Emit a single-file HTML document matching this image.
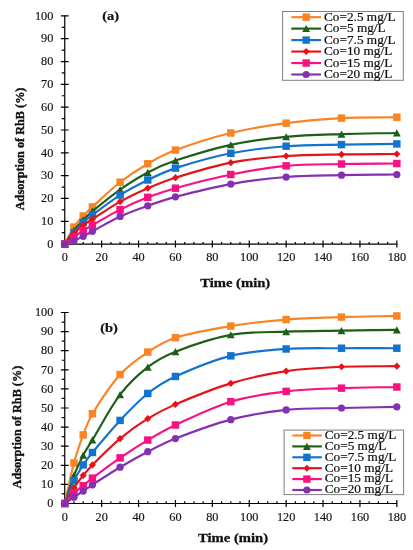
<!DOCTYPE html>
<html><head><meta charset="utf-8"><title>Adsorption of RhB</title>
<style>
html,body{margin:0;padding:0;background:#fff;}
body{width:413px;height:550px;overflow:hidden;font-family:"Liberation Serif",serif;}
svg{display:block;}
text{font-family:"Liberation Serif",serif;fill:#111;}
.tk{font-size:11.6px;stroke:#111;stroke-width:0.15px;}
.tt{font-size:13.2px;font-weight:bold;stroke:#111;stroke-width:0.3px;}
.ty{font-size:12.25px;font-weight:bold;stroke:#111;stroke-width:0.35px;}
.lb{font-size:12.6px;font-weight:bold;stroke:#111;stroke-width:0.2px;}
.lg{font-size:11.85px;stroke:#111;stroke-width:0.2px;}
</style></head><body>
<svg width="413" height="550" viewBox="0 0 413 550">
<rect width="413" height="550" fill="#fff"/>
<g stroke="#000" stroke-width="1.2" fill="none">
<path d="M64.75 15.40V244.60"/>
<path d="M64.25 244.10H397.35"/>
<path d="M60.85 244.10H68.65M61.75 232.69H64.75M60.85 221.28H68.65M61.75 209.87H64.75M60.85 198.46H68.65M61.75 187.05H64.75M60.85 175.64H68.65M61.75 164.23H64.75M60.85 152.82H68.65M61.75 141.41H64.75M60.85 130.00H68.65M61.75 118.59H64.75M60.85 107.18H68.65M61.75 95.77H64.75M60.85 84.36H68.65M61.75 72.95H64.75M60.85 61.54H68.65M61.75 50.13H64.75M60.85 38.72H68.65M61.75 27.31H64.75M60.85 15.90H68.65M64.75 240.50V247.50M73.97 241.90V244.10M83.20 241.90V244.10M92.42 241.90V244.10M101.65 240.50V247.50M110.88 241.90V244.10M120.10 241.90V244.10M129.32 241.90V244.10M138.55 240.50V247.50M147.78 241.90V244.10M157.00 241.90V244.10M166.22 241.90V244.10M175.45 240.50V247.50M184.68 241.90V244.10M193.90 241.90V244.10M203.12 241.90V244.10M212.35 240.50V247.50M221.57 241.90V244.10M230.80 241.90V244.10M240.03 241.90V244.10M249.25 240.50V247.50M258.48 241.90V244.10M267.70 241.90V244.10M276.92 241.90V244.10M286.15 240.50V247.50M295.38 241.90V244.10M304.60 241.90V244.10M313.82 241.90V244.10M323.05 240.50V247.50M332.27 241.90V244.10M341.50 241.90V244.10M350.73 241.90V244.10M359.95 240.50V247.50M369.18 241.90V244.10M378.40 241.90V244.10M387.62 241.90V244.10M396.85 240.50V247.50"/>
</g>
<g>
<text class="tk" text-anchor="end" transform="translate(53.40 247.80) scale(1.06 1)">0</text>
<text class="tk" text-anchor="end" transform="translate(53.40 224.98) scale(1.06 1)">10</text>
<text class="tk" text-anchor="end" transform="translate(53.40 202.16) scale(1.06 1)">20</text>
<text class="tk" text-anchor="end" transform="translate(53.40 179.34) scale(1.06 1)">30</text>
<text class="tk" text-anchor="end" transform="translate(53.40 156.52) scale(1.06 1)">40</text>
<text class="tk" text-anchor="end" transform="translate(53.40 133.70) scale(1.06 1)">50</text>
<text class="tk" text-anchor="end" transform="translate(53.40 110.88) scale(1.06 1)">60</text>
<text class="tk" text-anchor="end" transform="translate(53.40 88.06) scale(1.06 1)">70</text>
<text class="tk" text-anchor="end" transform="translate(53.40 65.24) scale(1.06 1)">80</text>
<text class="tk" text-anchor="end" transform="translate(53.40 42.42) scale(1.06 1)">90</text>
<text class="tk" text-anchor="end" transform="translate(53.40 19.60) scale(1.06 1)">100</text>
</g>
<g>
<text class="tk" text-anchor="middle" transform="translate(64.75 261.30) scale(1.06 1)">0</text>
<text class="tk" text-anchor="middle" transform="translate(101.65 261.30) scale(1.06 1)">20</text>
<text class="tk" text-anchor="middle" transform="translate(138.55 261.30) scale(1.06 1)">40</text>
<text class="tk" text-anchor="middle" transform="translate(175.45 261.30) scale(1.06 1)">60</text>
<text class="tk" text-anchor="middle" transform="translate(212.35 261.30) scale(1.06 1)">80</text>
<text class="tk" text-anchor="middle" transform="translate(249.25 261.30) scale(1.06 1)">100</text>
<text class="tk" text-anchor="middle" transform="translate(286.15 261.30) scale(1.06 1)">120</text>
<text class="tk" text-anchor="middle" transform="translate(323.05 261.30) scale(1.06 1)">140</text>
<text class="tk" text-anchor="middle" transform="translate(359.95 261.30) scale(1.06 1)">160</text>
<text class="tk" text-anchor="middle" transform="translate(396.85 261.30) scale(1.06 1)">180</text>
</g>
<path d="M64.75 244.10C67.83 238.43 70.45 232.46 73.97 227.10C76.60 223.10 79.96 219.57 83.20 216.03C86.11 212.84 89.23 209.82 92.42 206.90C101.53 198.57 110.38 189.83 120.10 182.26C128.83 175.46 138.20 169.34 147.78 163.77C156.65 158.61 165.83 153.65 175.45 150.08C193.50 143.38 212.07 137.52 230.80 132.97C248.97 128.55 267.60 125.64 286.15 123.15C304.50 120.70 323.01 119.12 341.50 118.13C359.91 117.15 378.40 117.53 396.85 117.22" fill="none" stroke="#F98425" stroke-width="2.15" stroke-linecap="round"/>
<rect x="61.02" y="240.38" width="7.45" height="7.45" fill="#F98425"/>
<rect x="70.25" y="223.37" width="7.45" height="7.45" fill="#F98425"/>
<rect x="79.48" y="212.31" width="7.45" height="7.45" fill="#F98425"/>
<rect x="88.70" y="203.18" width="7.45" height="7.45" fill="#F98425"/>
<rect x="116.38" y="178.53" width="7.45" height="7.45" fill="#F98425"/>
<rect x="144.05" y="160.05" width="7.45" height="7.45" fill="#F98425"/>
<rect x="171.72" y="146.36" width="7.45" height="7.45" fill="#F98425"/>
<rect x="227.08" y="129.24" width="7.45" height="7.45" fill="#F98425"/>
<rect x="282.42" y="119.43" width="7.45" height="7.45" fill="#F98425"/>
<rect x="337.77" y="114.41" width="7.45" height="7.45" fill="#F98425"/>
<rect x="393.12" y="113.50" width="7.45" height="7.45" fill="#F98425"/>
<path d="M64.75 244.10C67.83 239.54 70.64 234.77 73.97 230.41C76.79 226.71 79.97 223.26 83.20 219.91C86.12 216.87 89.17 213.92 92.42 211.24C101.47 203.80 110.52 196.28 120.10 189.56C128.97 183.34 138.19 177.46 147.78 172.45C156.64 167.80 165.94 163.74 175.45 160.58C193.62 154.54 212.09 148.85 230.80 144.83C248.99 140.93 267.62 138.64 286.15 136.85C304.52 135.07 323.04 134.75 341.50 134.11C359.94 133.46 378.40 133.35 396.85 132.97" fill="none" stroke="#1E5E16" stroke-width="2.15" stroke-linecap="round"/>
<path d="M64.75 240.47L68.67 247.62L60.82 247.62Z" fill="#1E5E16"/>
<path d="M73.97 226.78L77.90 233.93L70.05 233.93Z" fill="#1E5E16"/>
<path d="M83.20 216.29L87.12 223.44L79.28 223.44Z" fill="#1E5E16"/>
<path d="M92.42 207.61L96.35 214.76L88.50 214.76Z" fill="#1E5E16"/>
<path d="M120.10 185.94L124.02 193.09L116.17 193.09Z" fill="#1E5E16"/>
<path d="M147.78 168.82L151.70 175.97L143.85 175.97Z" fill="#1E5E16"/>
<path d="M175.45 156.95L179.37 164.10L171.53 164.10Z" fill="#1E5E16"/>
<path d="M230.80 141.21L234.72 148.36L226.88 148.36Z" fill="#1E5E16"/>
<path d="M286.15 133.22L290.07 140.37L282.22 140.37Z" fill="#1E5E16"/>
<path d="M341.50 130.48L345.43 137.63L337.57 137.63Z" fill="#1E5E16"/>
<path d="M396.85 129.34L400.78 136.49L392.93 136.49Z" fill="#1E5E16"/>
<path d="M64.75 244.10C67.83 240.30 70.81 236.41 73.97 232.69C76.96 229.19 79.90 225.61 83.20 222.42C86.05 219.67 89.24 217.26 92.42 214.89C101.54 208.13 110.52 201.08 120.10 195.04C128.97 189.44 138.34 184.57 147.78 179.98C156.79 175.59 165.92 171.18 175.45 168.11C193.59 162.28 212.10 156.98 230.80 153.28C249.00 149.67 267.63 147.65 286.15 146.20C304.53 144.76 323.05 144.99 341.50 144.60C359.95 144.22 378.40 144.15 396.85 143.92" fill="none" stroke="#1273CF" stroke-width="2.15" stroke-linecap="round"/>
<rect x="61.02" y="240.38" width="7.45" height="7.45" fill="#1273CF"/>
<rect x="70.25" y="228.97" width="7.45" height="7.45" fill="#1273CF"/>
<rect x="79.48" y="218.70" width="7.45" height="7.45" fill="#1273CF"/>
<rect x="88.70" y="211.17" width="7.45" height="7.45" fill="#1273CF"/>
<rect x="116.38" y="191.31" width="7.45" height="7.45" fill="#1273CF"/>
<rect x="144.05" y="176.25" width="7.45" height="7.45" fill="#1273CF"/>
<rect x="171.72" y="164.38" width="7.45" height="7.45" fill="#1273CF"/>
<rect x="227.08" y="149.55" width="7.45" height="7.45" fill="#1273CF"/>
<rect x="282.42" y="142.48" width="7.45" height="7.45" fill="#1273CF"/>
<rect x="337.77" y="140.88" width="7.45" height="7.45" fill="#1273CF"/>
<rect x="393.12" y="140.20" width="7.45" height="7.45" fill="#1273CF"/>
<path d="M64.75 244.10C67.83 240.60 70.73 236.93 73.97 233.60C76.88 230.62 79.92 227.71 83.20 225.16C86.07 222.92 89.34 221.19 92.42 219.23C101.64 213.36 110.58 206.99 120.10 201.65C129.03 196.65 138.37 192.26 147.78 188.19C156.82 184.28 166.03 180.59 175.45 177.69C193.71 172.07 212.09 166.30 230.80 162.63C248.99 159.07 267.64 157.39 286.15 156.01C304.54 154.65 323.05 154.76 341.50 154.42C359.95 154.08 378.40 154.11 396.85 153.96" fill="none" stroke="#E51219" stroke-width="2.15" stroke-linecap="round"/>
<path d="M64.75 240.52L68.33 244.10L64.75 247.68L61.17 244.10Z" fill="#E51219"/>
<path d="M73.97 230.03L77.55 233.60L73.97 237.18L70.40 233.60Z" fill="#E51219"/>
<path d="M83.20 221.58L86.78 225.16L83.20 228.74L79.62 225.16Z" fill="#E51219"/>
<path d="M92.42 215.65L96.00 219.23L92.42 222.80L88.85 219.23Z" fill="#E51219"/>
<path d="M120.10 198.08L123.68 201.65L120.10 205.23L116.52 201.65Z" fill="#E51219"/>
<path d="M147.78 184.62L151.35 188.19L147.78 191.77L144.20 188.19Z" fill="#E51219"/>
<path d="M175.45 174.12L179.03 177.69L175.45 181.27L171.87 177.69Z" fill="#E51219"/>
<path d="M230.80 159.06L234.38 162.63L230.80 166.21L227.22 162.63Z" fill="#E51219"/>
<path d="M286.15 152.44L289.73 156.01L286.15 159.59L282.57 156.01Z" fill="#E51219"/>
<path d="M341.50 150.84L345.08 154.42L341.50 157.99L337.92 154.42Z" fill="#E51219"/>
<path d="M396.85 150.39L400.43 153.96L396.85 157.54L393.27 153.96Z" fill="#E51219"/>
<path d="M64.75 244.10C67.83 241.74 70.85 239.31 73.97 237.03C77.00 234.82 80.06 232.66 83.20 230.64C86.21 228.70 89.32 226.93 92.42 225.16C101.62 219.93 110.66 214.39 120.10 209.64C129.11 205.11 138.37 200.96 147.78 197.32C156.82 193.81 166.09 190.76 175.45 188.19C193.76 183.16 212.19 178.26 230.80 174.50C249.09 170.80 267.59 167.59 286.15 165.83C304.49 164.09 323.05 164.38 341.50 164.00C359.95 163.62 378.40 163.70 396.85 163.55" fill="none" stroke="#FA1180" stroke-width="2.15" stroke-linecap="round"/>
<rect x="61.02" y="240.38" width="7.45" height="7.45" fill="#FA1180"/>
<rect x="70.25" y="233.30" width="7.45" height="7.45" fill="#FA1180"/>
<rect x="79.48" y="226.91" width="7.45" height="7.45" fill="#FA1180"/>
<rect x="88.70" y="221.43" width="7.45" height="7.45" fill="#FA1180"/>
<rect x="116.38" y="205.92" width="7.45" height="7.45" fill="#FA1180"/>
<rect x="144.05" y="193.59" width="7.45" height="7.45" fill="#FA1180"/>
<rect x="171.72" y="184.47" width="7.45" height="7.45" fill="#FA1180"/>
<rect x="227.08" y="170.77" width="7.45" height="7.45" fill="#FA1180"/>
<rect x="282.42" y="162.10" width="7.45" height="7.45" fill="#FA1180"/>
<rect x="337.77" y="160.28" width="7.45" height="7.45" fill="#FA1180"/>
<rect x="393.12" y="159.82" width="7.45" height="7.45" fill="#FA1180"/>
<path d="M64.75 244.10C67.83 242.96 70.95 241.95 73.97 240.68C77.10 239.36 80.17 237.88 83.20 236.34C86.32 234.76 89.34 232.98 92.42 231.32C101.64 226.36 110.62 220.87 120.10 216.49C129.07 212.35 138.45 209.07 147.78 205.76C156.90 202.53 166.08 199.31 175.45 196.86C193.76 192.08 212.19 187.42 230.80 184.08C249.09 180.80 267.63 178.50 286.15 177.01C304.53 175.53 323.05 175.60 341.50 175.18C359.95 174.77 378.40 174.73 396.85 174.50" fill="none" stroke="#8331B2" stroke-width="2.15" stroke-linecap="round"/>
<circle cx="64.75" cy="244.10" r="3.62" fill="#8331B2"/>
<circle cx="73.97" cy="240.68" r="3.62" fill="#8331B2"/>
<circle cx="83.20" cy="236.34" r="3.62" fill="#8331B2"/>
<circle cx="92.42" cy="231.32" r="3.62" fill="#8331B2"/>
<circle cx="120.10" cy="216.49" r="3.62" fill="#8331B2"/>
<circle cx="147.78" cy="205.76" r="3.62" fill="#8331B2"/>
<circle cx="175.45" cy="196.86" r="3.62" fill="#8331B2"/>
<circle cx="230.80" cy="184.08" r="3.62" fill="#8331B2"/>
<circle cx="286.15" cy="177.01" r="3.62" fill="#8331B2"/>
<circle cx="341.50" cy="175.18" r="3.62" fill="#8331B2"/>
<circle cx="396.85" cy="174.50" r="3.62" fill="#8331B2"/>
<text class="tt" text-anchor="middle" transform="translate(235.20 287.20) scale(1.11 1)">Time (min)</text>
<text class="ty" text-anchor="middle" transform="translate(23.90 148.90) scale(1.1 1) rotate(-90)">Adsorption of RhB (%)</text>
<text class="lb" text-anchor="start" transform="translate(102.30 20.10) scale(1.15 1)">(a)</text>
<rect x="282.6" y="11.5" width="120.7" height="68.8" fill="#fff" stroke="#7f7f7f" stroke-width="1"/>
<path d="M291.3 17.15H321.1" stroke="#F98425" stroke-width="2.15"/>
<rect x="302.45" y="13.45" width="7.40" height="7.40" fill="#F98425"/>
<text class="lg" text-anchor="start" transform="translate(324.00 20.65) scale(1.12 1)">Co=2.5 mg/L</text>
<path d="M291.3 28.62H321.1" stroke="#1E5E16" stroke-width="2.15"/>
<path d="M306.15 25.02L310.05 32.12L302.25 32.12Z" fill="#1E5E16"/>
<text class="lg" text-anchor="start" transform="translate(324.00 32.12) scale(1.12 1)">Co=5 mg/L</text>
<path d="M291.3 40.09H321.1" stroke="#1273CF" stroke-width="2.15"/>
<rect x="302.45" y="36.39" width="7.40" height="7.40" fill="#1273CF"/>
<text class="lg" text-anchor="start" transform="translate(324.00 43.59) scale(1.12 1)">Co=7.5 mg/L</text>
<path d="M291.3 51.56H321.1" stroke="#E51219" stroke-width="2.15"/>
<path d="M306.15 48.01L309.70 51.56L306.15 55.11L302.60 51.56Z" fill="#E51219"/>
<text class="lg" text-anchor="start" transform="translate(324.00 55.06) scale(1.12 1)">Co=10 mg/L</text>
<path d="M291.3 63.03H321.1" stroke="#FA1180" stroke-width="2.15"/>
<rect x="302.45" y="59.33" width="7.40" height="7.40" fill="#FA1180"/>
<text class="lg" text-anchor="start" transform="translate(324.00 66.53) scale(1.12 1)">Co=15 mg/L</text>
<path d="M291.3 74.50H321.1" stroke="#8331B2" stroke-width="2.15"/>
<circle cx="306.15" cy="74.50" r="3.60" fill="#8331B2"/>
<text class="lg" text-anchor="start" transform="translate(324.00 78.00) scale(1.12 1)">Co=20 mg/L</text>
<g stroke="#000" stroke-width="1.2" fill="none">
<path d="M64.75 312.00V504.00"/>
<path d="M64.25 503.50H397.35"/>
<path d="M60.85 503.50H68.65M61.75 493.95H64.75M60.85 484.40H68.65M61.75 474.85H64.75M60.85 465.30H68.65M61.75 455.75H64.75M60.85 446.20H68.65M61.75 436.65H64.75M60.85 427.10H68.65M61.75 417.55H64.75M60.85 408.00H68.65M61.75 398.45H64.75M60.85 388.90H68.65M61.75 379.35H64.75M60.85 369.80H68.65M61.75 360.25H64.75M60.85 350.70H68.65M61.75 341.15H64.75M60.85 331.60H68.65M61.75 322.05H64.75M60.85 312.50H68.65M64.75 499.90V506.90M73.97 501.30V503.50M83.20 501.30V503.50M92.42 501.30V503.50M101.65 499.90V506.90M110.88 501.30V503.50M120.10 501.30V503.50M129.32 501.30V503.50M138.55 499.90V506.90M147.78 501.30V503.50M157.00 501.30V503.50M166.22 501.30V503.50M175.45 499.90V506.90M184.68 501.30V503.50M193.90 501.30V503.50M203.12 501.30V503.50M212.35 499.90V506.90M221.57 501.30V503.50M230.80 501.30V503.50M240.03 501.30V503.50M249.25 499.90V506.90M258.48 501.30V503.50M267.70 501.30V503.50M276.92 501.30V503.50M286.15 499.90V506.90M295.38 501.30V503.50M304.60 501.30V503.50M313.82 501.30V503.50M323.05 499.90V506.90M332.27 501.30V503.50M341.50 501.30V503.50M350.73 501.30V503.50M359.95 499.90V506.90M369.18 501.30V503.50M378.40 501.30V503.50M387.62 501.30V503.50M396.85 499.90V506.90"/>
</g>
<g>
<text class="tk" text-anchor="end" transform="translate(53.40 507.20) scale(1.06 1)">0</text>
<text class="tk" text-anchor="end" transform="translate(53.40 488.10) scale(1.06 1)">10</text>
<text class="tk" text-anchor="end" transform="translate(53.40 469.00) scale(1.06 1)">20</text>
<text class="tk" text-anchor="end" transform="translate(53.40 449.90) scale(1.06 1)">30</text>
<text class="tk" text-anchor="end" transform="translate(53.40 430.80) scale(1.06 1)">40</text>
<text class="tk" text-anchor="end" transform="translate(53.40 411.70) scale(1.06 1)">50</text>
<text class="tk" text-anchor="end" transform="translate(53.40 392.60) scale(1.06 1)">60</text>
<text class="tk" text-anchor="end" transform="translate(53.40 373.50) scale(1.06 1)">70</text>
<text class="tk" text-anchor="end" transform="translate(53.40 354.40) scale(1.06 1)">80</text>
<text class="tk" text-anchor="end" transform="translate(53.40 335.30) scale(1.06 1)">90</text>
<text class="tk" text-anchor="end" transform="translate(53.40 316.20) scale(1.06 1)">100</text>
</g>
<g>
<text class="tk" text-anchor="middle" transform="translate(64.75 520.70) scale(1.06 1)">0</text>
<text class="tk" text-anchor="middle" transform="translate(101.65 520.70) scale(1.06 1)">20</text>
<text class="tk" text-anchor="middle" transform="translate(138.55 520.70) scale(1.06 1)">40</text>
<text class="tk" text-anchor="middle" transform="translate(175.45 520.70) scale(1.06 1)">60</text>
<text class="tk" text-anchor="middle" transform="translate(212.35 520.70) scale(1.06 1)">80</text>
<text class="tk" text-anchor="middle" transform="translate(249.25 520.70) scale(1.06 1)">100</text>
<text class="tk" text-anchor="middle" transform="translate(286.15 520.70) scale(1.06 1)">120</text>
<text class="tk" text-anchor="middle" transform="translate(323.05 520.70) scale(1.06 1)">140</text>
<text class="tk" text-anchor="middle" transform="translate(359.95 520.70) scale(1.06 1)">160</text>
<text class="tk" text-anchor="middle" transform="translate(396.85 520.70) scale(1.06 1)">180</text>
</g>
<path d="M64.75 503.50C67.83 490.00 70.38 476.36 73.97 463.01C76.53 453.51 79.75 444.15 83.20 434.93C85.90 427.72 88.42 420.28 92.42 413.73C100.72 400.16 109.52 386.36 120.10 374.58C127.97 365.80 137.93 358.60 147.78 352.04C156.38 346.31 165.62 340.79 175.45 337.71C193.29 332.13 212.21 329.11 230.80 326.06C249.11 323.06 267.65 321.07 286.15 319.57C304.55 318.08 323.04 317.69 341.50 317.08C359.94 316.48 378.40 316.32 396.85 315.94" fill="none" stroke="#F98425" stroke-width="2.15" stroke-linecap="round"/>
<rect x="61.02" y="499.77" width="7.45" height="7.45" fill="#F98425"/>
<rect x="70.25" y="459.28" width="7.45" height="7.45" fill="#F98425"/>
<rect x="79.48" y="431.21" width="7.45" height="7.45" fill="#F98425"/>
<rect x="88.70" y="410.00" width="7.45" height="7.45" fill="#F98425"/>
<rect x="116.38" y="370.85" width="7.45" height="7.45" fill="#F98425"/>
<rect x="144.05" y="348.31" width="7.45" height="7.45" fill="#F98425"/>
<rect x="171.72" y="333.99" width="7.45" height="7.45" fill="#F98425"/>
<rect x="227.08" y="322.34" width="7.45" height="7.45" fill="#F98425"/>
<rect x="282.42" y="315.84" width="7.45" height="7.45" fill="#F98425"/>
<rect x="337.77" y="313.36" width="7.45" height="7.45" fill="#F98425"/>
<rect x="393.12" y="312.21" width="7.45" height="7.45" fill="#F98425"/>
<path d="M64.75 503.50C67.83 494.14 70.47 484.61 73.97 475.42C76.62 468.50 79.79 461.75 83.20 455.18C85.94 449.91 89.33 444.98 92.42 439.90C101.63 424.80 109.47 408.61 120.10 394.63C127.92 384.35 137.60 375.03 147.78 367.13C156.05 360.70 165.65 355.46 175.45 351.65C193.33 344.70 211.96 338.26 230.80 334.85C248.86 331.58 267.69 332.30 286.15 331.60C304.59 330.90 323.05 330.93 341.50 330.64C359.95 330.36 378.40 330.14 396.85 329.88" fill="none" stroke="#1E5E16" stroke-width="2.15" stroke-linecap="round"/>
<path d="M64.75 499.88L68.67 507.03L60.82 507.03Z" fill="#1E5E16"/>
<path d="M73.97 471.80L77.90 478.95L70.05 478.95Z" fill="#1E5E16"/>
<path d="M83.20 451.55L87.12 458.70L79.28 458.70Z" fill="#1E5E16"/>
<path d="M92.42 436.27L96.35 443.42L88.50 443.42Z" fill="#1E5E16"/>
<path d="M120.10 391.00L124.02 398.16L116.17 398.16Z" fill="#1E5E16"/>
<path d="M147.78 363.50L151.70 370.65L143.85 370.65Z" fill="#1E5E16"/>
<path d="M175.45 348.03L179.37 355.18L171.53 355.18Z" fill="#1E5E16"/>
<path d="M230.80 331.22L234.72 338.37L226.88 338.37Z" fill="#1E5E16"/>
<path d="M286.15 327.98L290.07 335.13L282.22 335.13Z" fill="#1E5E16"/>
<path d="M341.50 327.02L345.43 334.17L337.57 334.17Z" fill="#1E5E16"/>
<path d="M396.85 326.26L400.78 333.41L392.93 333.41Z" fill="#1E5E16"/>
<path d="M64.75 503.50C67.83 495.92 70.46 488.13 73.97 480.77C76.61 475.27 79.86 470.03 83.20 464.92C86.01 460.61 89.14 456.47 92.42 452.50C101.44 441.64 110.45 430.71 120.10 420.42C128.90 411.03 137.75 401.44 147.78 393.48C156.20 386.79 165.63 380.93 175.45 376.49C193.31 368.39 211.82 360.57 230.80 355.86C248.72 351.40 267.63 350.26 286.15 348.98C304.53 347.71 323.05 348.34 341.50 348.22C359.95 348.09 378.40 348.22 396.85 348.22" fill="none" stroke="#1273CF" stroke-width="2.15" stroke-linecap="round"/>
<rect x="61.02" y="499.77" width="7.45" height="7.45" fill="#1273CF"/>
<rect x="70.25" y="477.05" width="7.45" height="7.45" fill="#1273CF"/>
<rect x="79.48" y="461.19" width="7.45" height="7.45" fill="#1273CF"/>
<rect x="88.70" y="448.78" width="7.45" height="7.45" fill="#1273CF"/>
<rect x="116.38" y="416.69" width="7.45" height="7.45" fill="#1273CF"/>
<rect x="144.05" y="389.76" width="7.45" height="7.45" fill="#1273CF"/>
<rect x="171.72" y="372.76" width="7.45" height="7.45" fill="#1273CF"/>
<rect x="227.08" y="352.13" width="7.45" height="7.45" fill="#1273CF"/>
<rect x="282.42" y="345.26" width="7.45" height="7.45" fill="#1273CF"/>
<rect x="337.77" y="344.49" width="7.45" height="7.45" fill="#1273CF"/>
<rect x="393.12" y="344.49" width="7.45" height="7.45" fill="#1273CF"/>
<path d="M64.75 503.50C67.83 498.28 70.65 492.89 73.97 487.84C76.80 483.54 79.97 479.44 83.20 475.42C86.12 471.80 89.13 468.21 92.42 464.92C101.43 455.92 110.35 446.71 120.10 438.56C128.80 431.30 138.14 424.65 147.78 418.70C156.59 413.25 165.91 408.43 175.45 404.37C193.58 396.65 211.95 389.02 230.80 383.36C248.85 377.94 267.51 373.94 286.15 371.14C304.41 368.40 323.02 367.57 341.50 366.74C359.92 365.92 378.40 366.36 396.85 366.17" fill="none" stroke="#E51219" stroke-width="2.15" stroke-linecap="round"/>
<path d="M64.75 499.92L68.33 503.50L64.75 507.08L61.17 503.50Z" fill="#E51219"/>
<path d="M73.97 484.26L77.55 487.84L73.97 491.41L70.40 487.84Z" fill="#E51219"/>
<path d="M83.20 471.85L86.78 475.42L83.20 479.00L79.62 475.42Z" fill="#E51219"/>
<path d="M92.42 461.34L96.00 464.92L92.42 468.49L88.85 464.92Z" fill="#E51219"/>
<path d="M120.10 434.98L123.68 438.56L120.10 442.14L116.52 438.56Z" fill="#E51219"/>
<path d="M147.78 415.12L151.35 418.70L147.78 422.27L144.20 418.70Z" fill="#E51219"/>
<path d="M175.45 400.79L179.03 404.37L175.45 407.95L171.87 404.37Z" fill="#E51219"/>
<path d="M230.80 379.78L234.38 383.36L230.80 386.94L227.22 383.36Z" fill="#E51219"/>
<path d="M286.15 367.56L289.73 371.14L286.15 374.71L282.57 371.14Z" fill="#E51219"/>
<path d="M341.50 363.17L345.08 366.74L341.50 370.32L337.92 366.74Z" fill="#E51219"/>
<path d="M396.85 362.59L400.43 366.17L396.85 369.75L393.27 366.17Z" fill="#E51219"/>
<path d="M64.75 503.50C67.83 499.93 70.60 496.05 73.97 492.80C76.75 490.13 80.17 488.15 83.20 485.74C86.32 483.25 89.24 480.50 92.42 478.10C101.54 471.21 110.68 464.32 120.10 457.85C129.13 451.65 138.35 445.68 147.78 440.09C156.80 434.73 165.92 429.40 175.45 425.00C193.60 416.61 211.76 407.48 230.80 401.70C248.66 396.28 267.56 393.66 286.15 391.38C304.46 389.14 323.04 388.87 341.50 388.14C359.94 387.40 378.40 387.37 396.85 386.99" fill="none" stroke="#FA1180" stroke-width="2.15" stroke-linecap="round"/>
<rect x="61.02" y="499.77" width="7.45" height="7.45" fill="#FA1180"/>
<rect x="70.25" y="489.08" width="7.45" height="7.45" fill="#FA1180"/>
<rect x="79.48" y="482.01" width="7.45" height="7.45" fill="#FA1180"/>
<rect x="88.70" y="474.37" width="7.45" height="7.45" fill="#FA1180"/>
<rect x="116.38" y="454.13" width="7.45" height="7.45" fill="#FA1180"/>
<rect x="144.05" y="436.36" width="7.45" height="7.45" fill="#FA1180"/>
<rect x="171.72" y="421.27" width="7.45" height="7.45" fill="#FA1180"/>
<rect x="227.08" y="397.97" width="7.45" height="7.45" fill="#FA1180"/>
<rect x="282.42" y="387.66" width="7.45" height="7.45" fill="#FA1180"/>
<rect x="337.77" y="384.41" width="7.45" height="7.45" fill="#FA1180"/>
<rect x="393.12" y="383.26" width="7.45" height="7.45" fill="#FA1180"/>
<path d="M64.75 503.50C67.83 501.40 70.89 499.28 73.97 497.20C77.04 495.14 80.14 493.14 83.20 491.08C86.29 489.01 89.30 486.80 92.42 484.78C101.60 478.85 110.72 472.81 120.10 467.21C129.17 461.79 138.39 456.59 147.78 451.74C156.84 447.04 165.93 442.24 175.45 438.56C193.61 431.54 211.98 424.52 230.80 419.65C248.88 414.97 267.56 411.87 286.15 409.91C304.46 407.98 323.05 408.51 341.50 408.00C359.95 407.49 378.40 407.24 396.85 406.85" fill="none" stroke="#8331B2" stroke-width="2.15" stroke-linecap="round"/>
<circle cx="64.75" cy="503.50" r="3.62" fill="#8331B2"/>
<circle cx="73.97" cy="497.20" r="3.62" fill="#8331B2"/>
<circle cx="83.20" cy="491.08" r="3.62" fill="#8331B2"/>
<circle cx="92.42" cy="484.78" r="3.62" fill="#8331B2"/>
<circle cx="120.10" cy="467.21" r="3.62" fill="#8331B2"/>
<circle cx="147.78" cy="451.74" r="3.62" fill="#8331B2"/>
<circle cx="175.45" cy="438.56" r="3.62" fill="#8331B2"/>
<circle cx="230.80" cy="419.65" r="3.62" fill="#8331B2"/>
<circle cx="286.15" cy="409.91" r="3.62" fill="#8331B2"/>
<circle cx="341.50" cy="408.00" r="3.62" fill="#8331B2"/>
<circle cx="396.85" cy="406.85" r="3.62" fill="#8331B2"/>
<text class="tt" text-anchor="middle" transform="translate(233.00 542.00) scale(1.11 1)">Time (min)</text>
<text class="ty" text-anchor="middle" transform="translate(20.70 427.10) scale(1.1 1) rotate(-90)">Adsorption of RhB (%)</text>
<text class="lb" text-anchor="start" transform="translate(100.20 332.00) scale(1.15 1)">(b)</text>
<rect x="284.1" y="430.1" width="119.5" height="64.5" fill="#fff" stroke="#7f7f7f" stroke-width="1"/>
<path d="M292.3 435.50H321.8" stroke="#F98425" stroke-width="2.15"/>
<rect x="303.20" y="431.80" width="7.40" height="7.40" fill="#F98425"/>
<text class="lg" text-anchor="start" transform="translate(324.70 438.80) scale(1.12 1)">Co=2.5 mg/L</text>
<path d="M292.3 446.40H321.8" stroke="#1E5E16" stroke-width="2.15"/>
<path d="M306.90 442.80L310.80 449.90L303.00 449.90Z" fill="#1E5E16"/>
<text class="lg" text-anchor="start" transform="translate(324.70 449.70) scale(1.12 1)">Co=5 mg/L</text>
<path d="M292.3 457.30H321.8" stroke="#1273CF" stroke-width="2.15"/>
<rect x="303.20" y="453.60" width="7.40" height="7.40" fill="#1273CF"/>
<text class="lg" text-anchor="start" transform="translate(324.70 460.60) scale(1.12 1)">Co=7.5 mg/L</text>
<path d="M292.3 468.20H321.8" stroke="#E51219" stroke-width="2.15"/>
<path d="M306.90 464.65L310.45 468.20L306.90 471.75L303.35 468.20Z" fill="#E51219"/>
<text class="lg" text-anchor="start" transform="translate(324.70 471.50) scale(1.12 1)">Co=10 mg/L</text>
<path d="M292.3 479.10H321.8" stroke="#FA1180" stroke-width="2.15"/>
<rect x="303.20" y="475.40" width="7.40" height="7.40" fill="#FA1180"/>
<text class="lg" text-anchor="start" transform="translate(324.70 482.40) scale(1.12 1)">Co=15 mg/L</text>
<path d="M292.3 490.00H321.8" stroke="#8331B2" stroke-width="2.15"/>
<circle cx="306.90" cy="490.00" r="3.60" fill="#8331B2"/>
<text class="lg" text-anchor="start" transform="translate(324.70 493.30) scale(1.12 1)">Co=20 mg/L</text>
</svg>
</body></html>
